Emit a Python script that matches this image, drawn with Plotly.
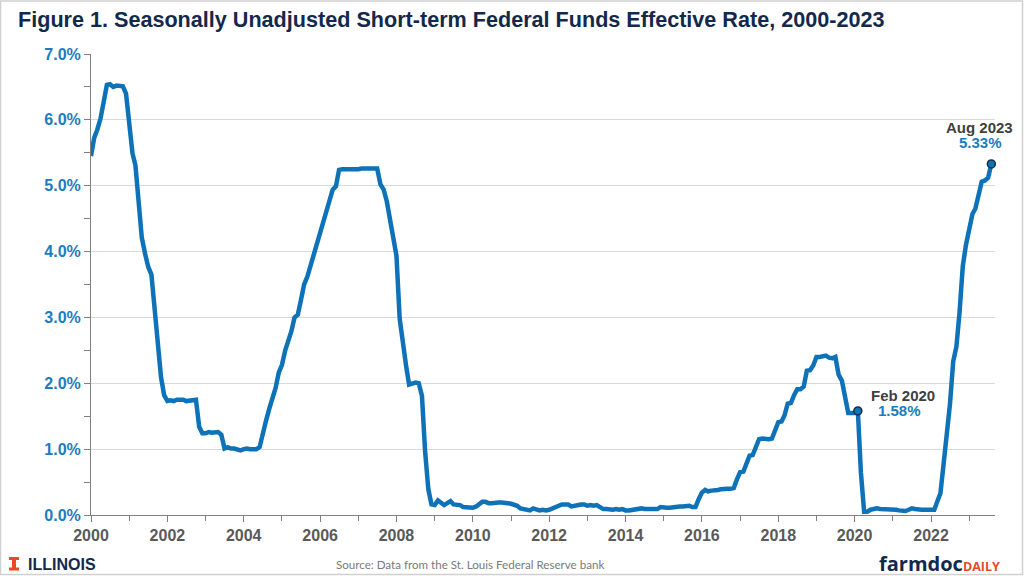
import plotly.graph_objects as go

# Monthly effective federal funds rate (%), Jan 2000 - Aug 2023
rates_by_year = {
    2000: [5.45, 5.73, 5.85, 6.02, 6.27, 6.53, 6.54, 6.50, 6.52, 6.51, 6.51, 6.40],
    2001: [5.98, 5.49, 5.31, 4.80, 4.21, 3.97, 3.77, 3.65, 3.07, 2.49, 2.09, 1.82],
    2002: [1.73, 1.74, 1.73, 1.75, 1.75, 1.75, 1.73, 1.74, 1.75, 1.75, 1.34, 1.24],
    2003: [1.24, 1.26, 1.25, 1.26, 1.26, 1.22, 1.01, 1.03, 1.01, 1.01, 1.00, 0.98],
    2004: [1.00, 1.01, 1.00, 1.00, 1.00, 1.03, 1.26, 1.43, 1.61, 1.76, 1.93, 2.16],
    2005: [2.28, 2.50, 2.63, 2.79, 3.00, 3.04, 3.26, 3.50, 3.62, 3.78, 4.00, 4.16],
    2006: [4.29, 4.49, 4.59, 4.79, 4.94, 4.99, 5.24, 5.25, 5.25, 5.25, 5.25, 5.24],
    2007: [5.25, 5.26, 5.26, 5.25, 5.25, 5.25, 5.26, 5.02, 4.94, 4.76, 4.49, 4.24],
    2008: [3.94, 2.98, 2.61, 2.28, 1.98, 2.00, 2.01, 2.00, 1.81, 0.97, 0.39, 0.16],
    2009: [0.15, 0.22, 0.18, 0.15, 0.18, 0.21, 0.16, 0.16, 0.15, 0.12, 0.12, 0.12],
    2010: [0.11, 0.13, 0.16, 0.20, 0.20, 0.18, 0.18, 0.19, 0.19, 0.19, 0.19, 0.18],
    2011: [0.17, 0.16, 0.14, 0.10, 0.09, 0.09, 0.07, 0.10, 0.08, 0.07, 0.08, 0.07],
    2012: [0.08, 0.10, 0.13, 0.14, 0.16, 0.16, 0.16, 0.13, 0.14, 0.16, 0.16, 0.16],
    2013: [0.14, 0.15, 0.14, 0.15, 0.11, 0.09, 0.09, 0.08, 0.08, 0.09, 0.08, 0.09],
    2014: [0.07, 0.07, 0.08, 0.09, 0.09, 0.10, 0.09, 0.09, 0.09, 0.09, 0.09, 0.12],
    2015: [0.11, 0.11, 0.11, 0.12, 0.12, 0.13, 0.13, 0.14, 0.14, 0.12, 0.12, 0.24],
    2016: [0.34, 0.38, 0.36, 0.37, 0.37, 0.38, 0.39, 0.40, 0.40, 0.40, 0.41, 0.54],
    2017: [0.65, 0.66, 0.79, 0.90, 0.91, 1.04, 1.15, 1.16, 1.15, 1.15, 1.16, 1.30],
    2018: [1.41, 1.42, 1.51, 1.69, 1.70, 1.82, 1.91, 1.91, 1.95, 2.19, 2.20, 2.27],
    2019: [2.40, 2.40, 2.41, 2.42, 2.39, 2.38, 2.40, 2.13, 2.04, 1.83, 1.55, 1.55],
    2020: [1.55, 1.58, 0.65, 0.05, 0.05, 0.08, 0.09, 0.10, 0.09, 0.09, 0.09, 0.09],
    2021: [0.09, 0.08, 0.07, 0.07, 0.06, 0.08, 0.10, 0.09, 0.08, 0.08, 0.08, 0.08],
    2022: [0.08, 0.08, 0.20, 0.33, 0.77, 1.21, 1.68, 2.33, 2.56, 3.08, 3.78, 4.10],
    2023: [4.33, 4.57, 4.65, 4.83, 5.06, 5.08, 5.12, 5.33],
}

dates = []
values = []
for yr, vals in rates_by_year.items():
    for m, v in enumerate(vals, start=1):
        dates.append(f"{yr}-{m:02d}-01")
        values.append(v)

highlight_dates = ["2020-02-01", "2023-08-01"]
highlight_labels = ["Feb 2020", "Aug 2023"]
highlight_values = [values[dates.index(d)] for d in highlight_dates]

y_ticks = [0, 1, 2, 3, 4, 5, 6, 7]
x_tick_years = list(range(2000, 2024, 2))

title_text = "Figure 1. Seasonally Unadjusted Short-term Federal Funds Effective Rate, 2000-2023"
source_text = "Source: Data from the St. Louis Federal Reserve bank"

LINE = "#0E72B8"
NAVY = "#13294B"
ORANGE = "#E84A27"
BLUE_TXT = "#1A7DC0"

# plot area in pixels
L, R, T, B = 91, 995, 54, 515
W, H = 1024, 576


def px(x):
    return (x - L) / (R - L)


def py(y):
    return (B - y) / (B - T)


fig = go.Figure()
fig.add_trace(go.Scatter(
    x=dates, y=values, mode="lines",
    line=dict(color=LINE, width=4.5), hoverinfo="x+y", showlegend=False,
))
fig.add_trace(go.Scatter(
    x=highlight_dates, y=highlight_values, mode="markers",
    marker=dict(color=LINE, size=8, line=dict(color="#1F2D44", width=1.5)),
    showlegend=False, cliponaxis=False,
))

FA = "Liberation Sans"
annotations = []
# Feb 2020 label
annotations.append(dict(x=highlight_dates[0], y=highlight_values[0], xref="x", yref="y",
                        text=f"<b>{highlight_labels[0]}</b>", showarrow=False,
                        xshift=45, yshift=15, font=dict(size=15, color="#404040", family=FA)))
annotations.append(dict(x=highlight_dates[0], y=highlight_values[0], xref="x", yref="y",
                        text=f"<b>{highlight_values[0]:.2f}%</b>", showarrow=False,
                        xshift=42, yshift=0, font=dict(size=15, color=BLUE_TXT, family=FA)))
# Aug 2023 label
annotations.append(dict(x=highlight_dates[1], y=highlight_values[1], xref="x", yref="y",
                        text=f"<b>{highlight_labels[1]}</b>", showarrow=False,
                        xshift=-12, yshift=36, font=dict(size=15, color="#404040", family=FA)))
annotations.append(dict(x=highlight_dates[1], y=highlight_values[1], xref="x", yref="y",
                        text=f"<b>{highlight_values[1]:.2f}%</b>", showarrow=False,
                        xshift=-11, yshift=21, font=dict(size=15, color=BLUE_TXT, family=FA)))

# Title
annotations.append(dict(x=px(16), y=py(20), xref="paper", yref="paper", xanchor="left", yanchor="middle",
                        text=f"<b>{title_text}</b>", showarrow=False,
                        font=dict(size=21.6, color=NAVY, family=FA)))
# Source
annotations.append(dict(x=px(470), y=py(564), xref="paper", yref="paper", xanchor="center", yanchor="middle",
                        text=source_text, showarrow=False,
                        font=dict(size=11.6, color="#7A7A7A", family="Lato")))
# ILLINOIS
annotations.append(dict(x=px(26), y=py(564), xref="paper", yref="paper", xanchor="left", yanchor="middle",
                        text="<b>ILLINOIS</b>", showarrow=False,
                        font=dict(size=16, color=NAVY, family=FA)))
# farmdoc DAILY
annotations.append(dict(x=px(1002), y=py(563), xref="paper", yref="paper", xanchor="right", yanchor="middle",
                        text=f"<span style='color:{NAVY};font-size:20px'><b>farmdoc</b></span><span style='color:{ORANGE};font-size:12.5px'><b>DAILY</b></span>",
                        showarrow=False, font=dict(family="Open Sans", color=NAVY)))

shapes = []
# Figure border
shapes.append(dict(type="rect", xref="paper", yref="paper", x0=px(0.5), x1=px(1022.5), y0=py(574.5), y1=py(1),
                   line=dict(color="#D0D0D0", width=1.5), fillcolor="rgba(0,0,0,0)", layer="below"))
# Illinois "I" block mark
shapes.append(dict(type="rect", xref="paper", yref="paper", x0=px(9), x1=px(19), y0=py(560), y1=py(557),
                   line=dict(width=0), fillcolor=ORANGE))
shapes.append(dict(type="rect", xref="paper", yref="paper", x0=px(9), x1=px(19), y0=py(570.5), y1=py(567.5),
                   line=dict(width=0), fillcolor=ORANGE))
shapes.append(dict(type="rect", xref="paper", yref="paper", x0=px(12), x1=px(16), y0=py(568), y1=py(559.5),
                   line=dict(width=0), fillcolor=ORANGE))

fig.update_layout(
    width=W, height=H,
    margin=dict(l=L, r=W - R, t=T, b=H - B),
    paper_bgcolor="white", plot_bgcolor="white",
    annotations=annotations, shapes=shapes,
    showlegend=False,
)
fig.update_xaxes(
    type="date", range=["2000-01-01", "2023-09-05"],
    tickvals=[f"{y}-01-01" for y in x_tick_years],
    ticktext=[f"<b>{y}</b>" for y in x_tick_years],
    ticks="outside", ticklen=6, tickcolor="#7F7F7F",
    minor=dict(dtick="M12", tick0="2000-01-01", ticks="outside", ticklen=5, tickcolor="#7F7F7F", showgrid=False),
    showline=True, linecolor="#7F7F7F", linewidth=1,
    showgrid=False, zeroline=False,
    tickfont=dict(size=16, color="#595959", family=FA),
)
fig.update_yaxes(
    range=[0, 7],
    tickvals=y_ticks, ticktext=[f"<b>{v:.1f}%</b>" for v in y_ticks],
    ticks="outside", ticklen=6, tickcolor="#7F7F7F",
    minor=dict(dtick=0.5, ticks="outside", ticklen=6, tickcolor="#7F7F7F", showgrid=False),
    showline=True, linecolor="#7F7F7F", linewidth=1,
    showgrid=True, gridcolor="#D9D9D9", gridwidth=1, zeroline=False,
    tickfont=dict(size=16, color=BLUE_TXT, family=FA),
)

fig.write_html("out.html", config={"displayModeBar": False},
               post_script="document.body.style.margin='0';document.body.style.padding='0';")
